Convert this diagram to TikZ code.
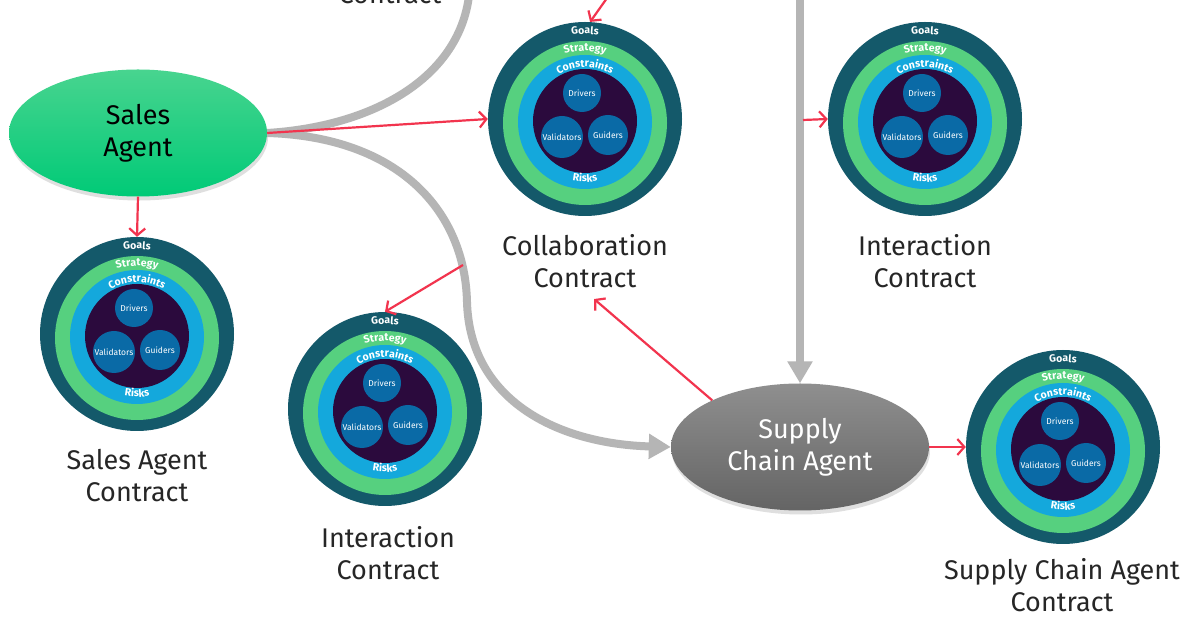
\documentclass[tikz,border=0pt]{standalone}
\usepackage{fontspec}
\setmainfont{Fira Sans}
\usetikzlibrary{positioning,arrows.meta,calc,shapes.geometric,shadows,decorations.text}

\definecolor{ringteal}{HTML}{14596A}
\definecolor{ringgreen}{HTML}{56D07F}
\definecolor{ringblue}{HTML}{14A8DC}
\definecolor{ringcore}{HTML}{2B0A3D}
\definecolor{pipblue}{HTML}{0A6AA6}
\definecolor{salestop}{HTML}{48D48F}
\definecolor{salesbot}{HTML}{00CA77}
\definecolor{chaintop}{HTML}{8F8F8F}
\definecolor{chainbot}{HTML}{646464}
\definecolor{flowgray}{HTML}{B5B5B5}
\definecolor{linkred}{HTML}{F2344E}

% text on a ring: centre, radius, start angle, end angle, text
\newcommand{\arclabel}[5]{\path[decorate, decoration={text along path, text align=center, text color=white, text={|\bfseries\fontsize{10.5}{11}\selectfont|#5}}] ($(#1)+(#3:#2)$) arc[start angle=#3, end angle=#4, radius=#2];}

% one contract disc: name, centre
\newcommand{\contractdisc}[2]{%
  \node[disc, fill=ringteal, minimum size=194pt] (#1) at (#2) {};
  \fill[ringgreen] ($(#1)+(0,-4)$) circle[radius=82];
  \fill[ringblue] ($(#1)+(0,-3)$) circle[radius=67];
  \fill[ringcore] ($(#1)+(0,-2)$) circle[radius=52];
  \node[pip, minimum size=38pt] (#1-drv) at ($(#1)+(-3,26)$) {Drivers};
  \node[pip, minimum size=42pt] (#1-val) at ($(#1)+(-23,-18)$) {Validators};
  \node[pip, minimum size=40pt] (#1-gui) at ($(#1)+(23,-16)$) {Guiders};
  \arclabel{#1}{85}{180}{0}{Goals}
  \arclabel{#1}{68}{180}{0}{Strategy}
  \arclabel{#1}{52}{180}{0}{Constraints}
  \arclabel{#1}{63}{180}{360}{Risks}%
}

\begin{document}
\begin{tikzpicture}[x=1pt, y=1pt,
  disc/.style={circle, inner sep=0pt},
  pip/.style={circle, fill=pipblue, text=white, inner sep=0pt, font=\fontsize{8.5}{9}\selectfont},
  agent/.style={ellipse, inner sep=0pt, align=center, minimum width=258pt, minimum height=127pt, font=\fontsize{27}{32}\selectfont, drop shadow={opacity=0.25, shadow xshift=1pt, shadow yshift=-4pt}},
  lbl/.style={align=center, font=\fontsize{27}{32}\selectfont, text=black!85},
  flow/.style={draw=flowgray, line width=8pt},
  flowtip/.style={-{Triangle[length=22pt, width=24pt]}},
  link/.style={draw=linkred, line width=2.2pt, -{Straight Barb[length=7pt, width=16pt]}}]
\useasboundingbox[fill=white] (0,0) rectangle (1200,632);

% agents
\node[agent, top color=salestop, bottom color=salesbot, text=black] (sales) at (138,499) {Sales\\Agent};
\node[agent, top color=chaintop, bottom color=chainbot, text=white] (chain) at (800,185) {Supply\\Chain Agent};

% gray flows
\coordinate (topexit) at (470,650);
\coordinate (vtop) at (800,650);
\draw[flow] (sales.east) .. controls (380,506) and (468,560) .. (topexit);
\draw[flow, flowtip] (sales.east) .. controls (400,495) and (465,420) .. (467,330) .. controls (470,230) and (560,188) .. (chain.west);
\draw[flow, flowtip] (vtop) -- (chain.north);

% contracts
\contractdisc{col}{585,513}
\contractdisc{itop}{925,513}
\contractdisc{sac}{137,298}
\contractdisc{ilow}{385,223}
\contractdisc{scc}{1063,185}

\node[lbl, anchor=base] (toplbl) at (390,628) {Contract};
\node[lbl] (colL) at (585,371) {Collaboration\\Contract};
\node[lbl] (itopL) at (925,371) {Interaction\\Contract};
\node[lbl] (sacL) at (137,156) {Sales Agent\\Contract};
\node[lbl] (ilowL) at (388,79) {Interaction\\Contract};
\node[lbl] (sccL) at (1062,47) {Supply Chain Agent\\Contract};

% red links
\coordinate (topin) at (617,648);
\coordinate (tapv) at (803,512);
\coordinate (tap) at (463,367);
\draw[link] (sales.east) -- (col.west);
\draw[link] (topin) -- (col.87);
\draw[link] (tapv) -- (itop.west);
\draw[link] (sales.south) -- (sac.north);
\draw[link] (tap) -- (ilow.north);
\draw[link, shorten >=12pt] (chain.152) -- (colL.south);
\draw[link] (chain.east) -- (scc.west);
\end{tikzpicture}
\end{document}
